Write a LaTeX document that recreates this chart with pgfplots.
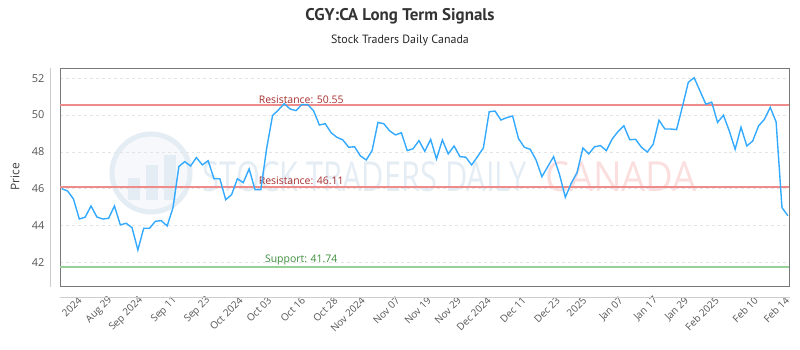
\documentclass[border=0pt]{standalone}
\usepackage{fontspec}
\setmainfont{Open Sans}
\newfontfamily\titlefont{PT Sans}
\usepackage{graphicx}
\usepackage{pgfplots}
\pgfplotsset{compat=1.18}
\definecolor{lineblue}{RGB}{51,170,255}
\definecolor{resred}{RGB}{238,140,140}
\definecolor{restext}{RGB}{165,45,45}
\definecolor{supgreen}{RGB}{150,208,150}
\definecolor{suptext}{RGB}{60,140,60}
\definecolor{framegray}{RGB}{120,120,120}
\definecolor{lgray}{RGB}{205,205,205}
\definecolor{gridgray}{RGB}{228,228,228}
\definecolor{ticktext}{RGB}{85,85,85}
\definecolor{wmblue}{RGB}{228,236,244}
\definecolor{wmred}{RGB}{251,223,223}
\begin{document}
\begin{tikzpicture}
\path (0bp,0bp) rectangle (800bp,350bp);
\node[font=\titlefont\bfseries\fontsize{17}{19}\selectfont, text=black!80] at (400bp,334bp) {CGY:CA Long Term Signals};
\node[font=\titlefont\fontsize{12}{14}\selectfont, text=black!85] at (400bp,310bp) {Stock Traders Daily Canada};
% watermark
\draw[wmblue, line width=5bp, fill=wmblue!35] (151bp,177bp) circle (39bp);
\fill[wmblue] (128bp,150bp) rectangle (140bp,172bp);
\fill[wmblue] (146bp,150bp) rectangle (158bp,185bp);
\fill[wmblue] (164bp,150bp) rectangle (176bp,195bp);
\node[text=wmblue, inner sep=0] at (365bp,173bp) {\resizebox{324bp}{30bp}{STOCK TRADERS DAILY}};
\node[text=wmred, inner sep=0] at (621bp,173bp) {\resizebox{152bp}{30bp}{CANADA}};
\begin{axis}[
  at={(60bp,64bp)}, anchor=south west, scale only axis,
  width=729bp, height=217.3bp,
  xmin=-0.3, xmax=124.2, ymin=40.71, ymax=52.52,
  axis line style={framegray, line width=0.8bp},
  ytick={42,44,...,52},
  ymajorgrids, grid style={dashed, gridgray, line width=0.6bp},
  major tick length=0,
  /pgf/number format/assume math mode=true,
  xtick={1.7,6.95,12.2,18.0,23.65,29.2,34.1,39.9,45.45,50.1,56.0,61.35,66.5,71.55,77.6,83.4,87.9,94.2,100.1,105.4,110.5,117.2,122.5},
  xticklabels={2024,Aug 29,Sep 2024,Sep 11,Sep 23,Oct 2024,Oct 03,Oct 16,Oct 28,Nov 2024,Nov 07,Nov 19,Nov 29,Dec 2024,Dec 11,Dec 23,2025,Jan 07,Jan 17,Jan 29,Feb 2025,Feb 10,Feb 14},
  xticklabel style={rotate=45, anchor=east, font=\fontsize{10}{12}\selectfont, text=ticktext, yshift=-15bp},
  yticklabel style={font=\fontsize{11}{13}\selectfont, text=ticktext, xshift=-12bp},
]
\addplot[resred, line width=2.2bp] coordinates {(-0.3,50.55) (124.2,50.55)};
\addplot[resred, line width=2.2bp] coordinates {(-0.3,46.11) (124.2,46.11)};
\addplot[supgreen, line width=2.2bp] coordinates {(-0.3,41.74) (124.2,41.74)};
\node[text=restext, anchor=south, font=\fontsize{10.5}{12}\selectfont, inner sep=1.5bp] at (axis cs:40.9,50.55) {Resistance: 50.55};
\node[text=restext, anchor=south, font=\fontsize{10.5}{12}\selectfont, inner sep=1.5bp] at (axis cs:40.9,46.11) {Resistance: 46.11};
\node[text=suptext, anchor=south, font=\fontsize{10.5}{12}\selectfont, inner sep=1.5bp] at (axis cs:40.9,41.74) {Support: 41.74};
\addplot[lineblue, line width=1.4bp] coordinates {
(0,46.0) (1,45.87) (2,45.44) (3,44.35) (4,44.45) (5,45.06) (6,44.46) (7,44.35) (8,44.39) (9,45.06)
(10,44.03) (11,44.12) (12,43.88) (13,42.67) (14,43.85) (15,43.85) (16,44.23) (17,44.26) (18,43.97) (19,44.97)
(20,47.2) (21,47.47) (22,47.23) (23,47.69) (24,47.29) (25,47.52) (26,46.54) (27,46.54) (28,45.4) (29,45.67)
(30,46.54) (31,46.33) (32,47.07) (33,45.95) (34,45.95) (35,48.2) (36,49.97) (37,50.28) (38,50.62) (39,50.33)
(40,50.24) (41,50.57) (42,50.57) (43,50.24) (44,49.46) (45,49.53) (46,49.04) (47,48.79) (48,48.65) (49,48.25)
(50,48.28) (51,47.78) (52,47.56) (53,48.07) (54,49.6) (55,49.53) (56,49.14) (57,48.92) (58,49.04) (59,48.07)
(60,48.17) (61,48.61) (62,48.03) (63,48.68) (64,47.61) (65,48.65) (66,47.89) (67,48.32) (68,47.74) (69,47.71)
(70,47.29) (71,47.74) (72,48.21) (73,50.18) (74,50.22) (75,49.73) (76,49.86) (77,49.95) (78,48.72) (79,48.25)
(80,48.14) (81,47.56) (82,46.65) (83,47.2) (84,47.74) (85,46.78) (86,45.53) (87,46.29) (88,46.87) (89,48.21)
(90,47.89) (91,48.28) (92,48.34) (93,48.07) (94,48.7) (95,49.1) (96,49.42) (97,48.66) (98,48.68) (99,48.25)
(100,47.99) (101,48.41) (102,49.72) (103,49.24) (104,49.24) (105,49.21) (106,50.46) (107,51.78) (108,52.03) (109,51.31)
(110,50.59) (111,50.7) (112,49.6) (113,49.99) (114,49.14) (115,48.14) (116,49.34) (117,48.32) (118,48.59) (119,49.41)
(120,49.77) (121,50.42) (122,49.62) (123,44.97) (124,44.53)
};
\end{axis}
\draw[lgray, line width=0.8bp] (50bp,63bp) -- (50bp,282bp);
\draw[lgray, line width=0.8bp] (60bp,53bp) -- (790bp,53bp);
\node[rotate=90, font=\fontsize{12}{14}\selectfont, text=black!75] at (15bp,173bp) {Price};
\end{tikzpicture}
\end{document}
